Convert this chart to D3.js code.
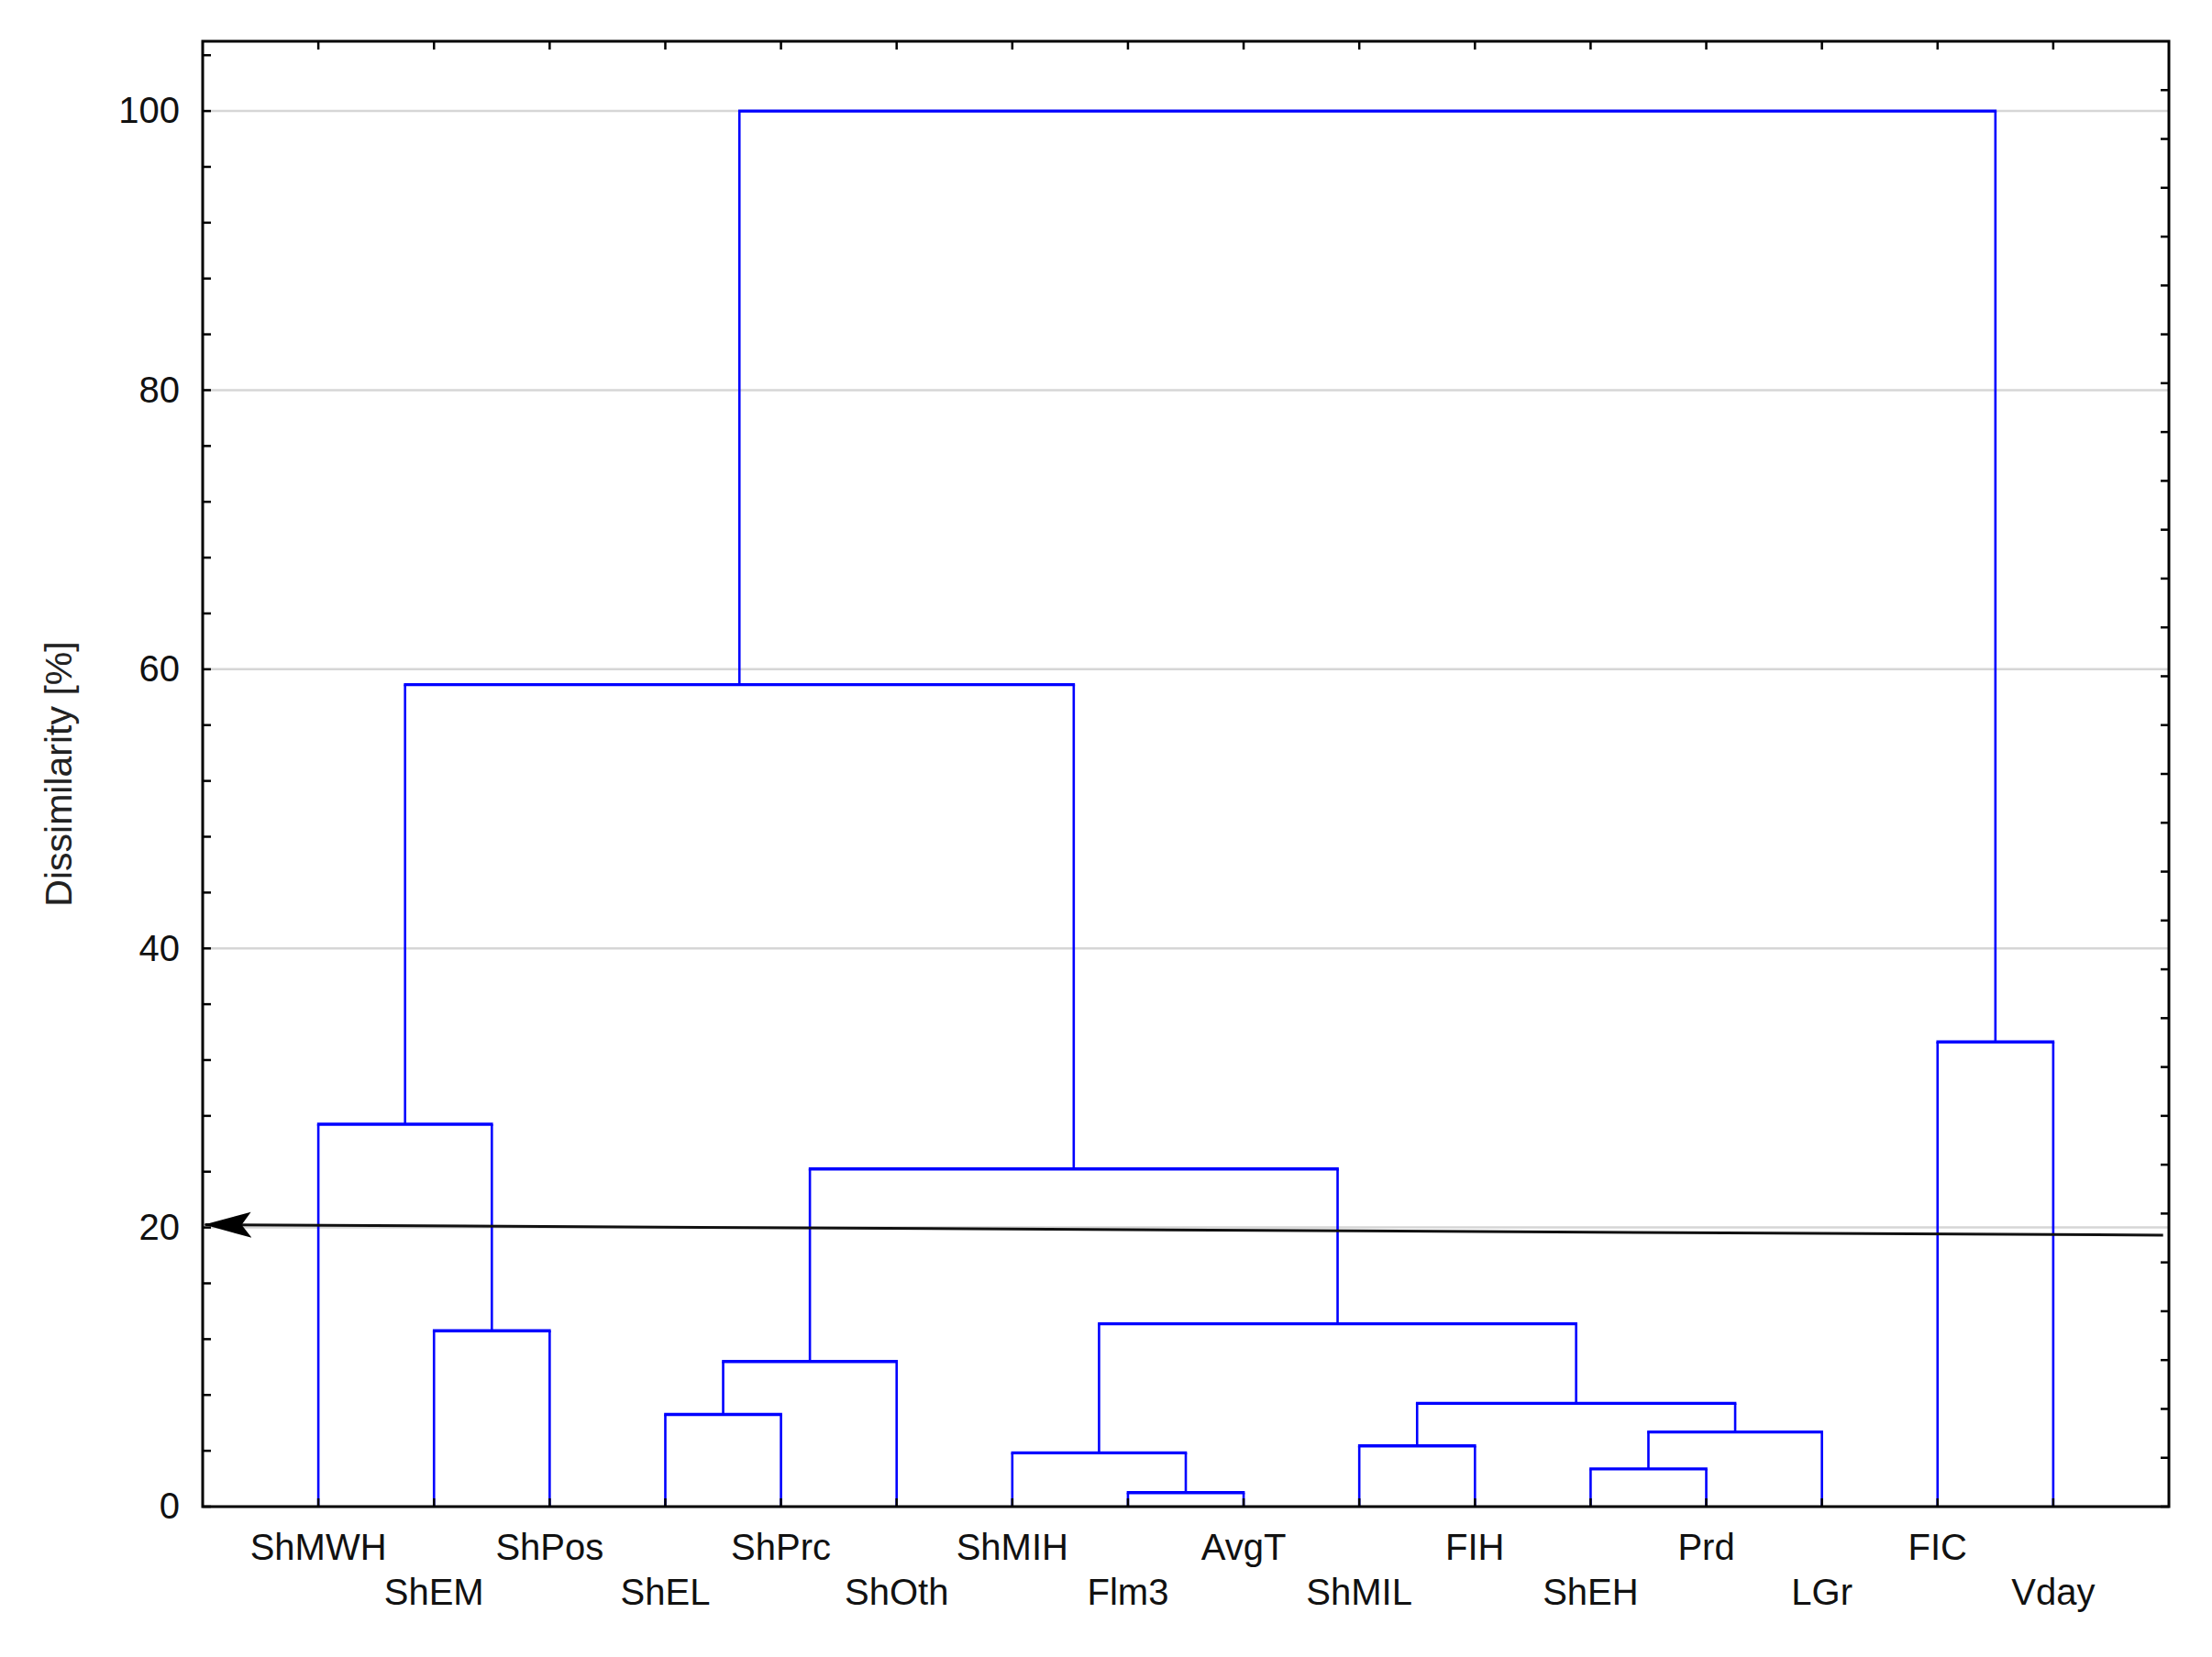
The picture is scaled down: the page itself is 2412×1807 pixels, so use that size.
<!DOCTYPE html>
<html>
<head>
<meta charset="utf-8">
<script src="https://cdn.jsdelivr.net/npm/d3@7"></script>
<style>
  body { margin: 0; background: #fff; }
  text { font-family: "Liberation Sans", Arial, sans-serif; }
</style>
</head>
<body>
<div id="chart"></div>
<script>
// leaf order along the x axis
var leaves = ["ShMWH", "ShEM", "ShPos", "ShEL", "ShPrc", "ShOth", "ShMIH", "Flm3",
              "AvgT", "ShMIL", "FIH", "ShEH", "Prd", "LGr", "FIC", "Vday"];

// merges: ids < 16 are leaves, id 16+ are the merges in this order
var mergeLeft   = [7, 11, 6, 9, 17, 3, 19, 21, 1, 18, 23, 0, 14, 27, 29];
var mergeRight  = [8, 12, 16, 10, 13, 4, 20, 5, 2, 22, 25, 24, 15, 26, 28];
var mergeHeight = [1.0, 2.7, 3.85, 4.35, 5.35, 6.6, 7.4, 10.4, 12.6, 13.1, 24.2, 27.4, 33.3, 58.9, 100];

var yTicks = [0, 20, 40, 60, 80, 100];
var yMinorTicks = d3.range(0, 105, 4);      // left side
var yRightTicks = d3.range(0, 105, 3.5);    // right side

// cut-off arrow (x in leaf units, y in %)
var arrowX = [16.95, 0.02];
var arrowY = [19.45, 20.2];

var W = 2412, H = 1807;
var margin = {top: 45, right: 47, bottom: 164, left: 221};
var width = W - margin.left - margin.right,
    height = H - margin.top - margin.bottom;

var svg = d3.select("#chart").append("svg")
    .attr("width", W)
    .attr("height", H);

var g = svg.append("g")
    .attr("transform", "translate(" + margin.left + "," + margin.top + ")");

var x = d3.scaleLinear().domain([0, leaves.length + 1]).range([0, width]);
var y = d3.scaleLinear().domain([0, 105]).range([height, 0]);

// grid lines
g.selectAll(".grid")
    .data(yTicks.filter(function (d) { return d > 0; }))
    .enter().append("line")
    .attr("x1", 0).attr("x2", width)
    .attr("y1", function (d) { return y(d); })
    .attr("y2", function (d) { return y(d); })
    .attr("stroke", "#d6d6d6")
    .attr("stroke-width", 2.5);

// node positions (leaf x, height)
var posX = leaves.map(function (d, i) { return i + 1; });
var posY = leaves.map(function () { return 0; });
mergeLeft.forEach(function (l, i) {
    posX.push((posX[l] + posX[mergeRight[i]]) / 2);
    posY.push(mergeHeight[i]);
});

var links = mergeLeft.map(function (l, i) {
    return {l: l, r: mergeRight[i], h: mergeHeight[i]};
});

// vertical legs
var legs = [];
links.forEach(function (d) {
    legs.push({x: posX[d.l], y0: posY[d.l], y1: d.h});
    legs.push({x: posX[d.r], y0: posY[d.r], y1: d.h});
});
g.selectAll(".leg")
    .data(legs)
    .enter().append("line")
    .attr("x1", function (d) { return x(d.x); })
    .attr("x2", function (d) { return x(d.x); })
    .attr("y1", function (d) { return y(d.y0); })
    .attr("y2", function (d) { return y(d.y1); })
    .attr("stroke", "#0000ff")
    .attr("stroke-width", 2.6);

// horizontal bars
g.selectAll(".bar")
    .data(links)
    .enter().append("line")
    .attr("x1", function (d) { return x(posX[d.l]) - 1.3; })
    .attr("x2", function (d) { return x(posX[d.r]) + 1.3; })
    .attr("y1", function (d) { return y(d.h); })
    .attr("y2", function (d) { return y(d.h); })
    .attr("stroke", "#0000ff")
    .attr("stroke-width", 3.4);

// frame
g.append("rect")
    .attr("x", 0).attr("y", 0)
    .attr("width", width).attr("height", height)
    .attr("fill", "none")
    .attr("stroke", "#000")
    .attr("stroke-width", 3);

// left axis labels
var yAxis = d3.axisLeft(y).tickValues(yTicks).tickSize(0).tickPadding(25)
    .tickFormat(d3.format("d"));
var ya = g.append("g").call(yAxis);
ya.select(".domain").remove();
ya.selectAll("text")
    .style("font-size", "40px")
    .attr("fill", "#111");

// inward ticks on all four sides
var tickLen = 9;
g.selectAll(".ltick")
    .data(yMinorTicks)
    .enter().append("line")
    .attr("x1", 0).attr("x2", tickLen)
    .attr("y1", function (d) { return y(d); })
    .attr("y2", function (d) { return y(d); })
    .attr("stroke", "#000").attr("stroke-width", 2.5);
g.selectAll(".rtick")
    .data(yRightTicks)
    .enter().append("line")
    .attr("x1", width).attr("x2", width - tickLen)
    .attr("y1", function (d) { return y(d); })
    .attr("y2", function (d) { return y(d); })
    .attr("stroke", "#000").attr("stroke-width", 2.5);
g.selectAll(".ttick")
    .data(posX.slice(0, leaves.length))
    .enter().append("line")
    .attr("x1", function (d) { return x(d); })
    .attr("x2", function (d) { return x(d); })
    .attr("y1", 0).attr("y2", tickLen)
    .attr("stroke", "#000").attr("stroke-width", 2.5);
g.selectAll(".btick")
    .data(posX.slice(0, leaves.length))
    .enter().append("line")
    .attr("x1", function (d) { return x(d); })
    .attr("x2", function (d) { return x(d); })
    .attr("y1", height).attr("y2", height - tickLen)
    .attr("stroke", "#000").attr("stroke-width", 2.5);

// leaf labels, two staggered rows
g.selectAll(".leaf")
    .data(leaves)
    .enter().append("text")
    .attr("x", function (d, i) { return x(i + 1); })
    .attr("y", function (d, i) { return height + (i % 2 === 0 ? 58 : 107); })
    .attr("text-anchor", "middle")
    .style("font-size", "40px")
    .attr("fill", "#111")
    .text(function (d) { return d; });

// y title
svg.append("text")
    .attr("transform", "translate(78," + (margin.top + height / 2) + ") rotate(-90)")
    .attr("text-anchor", "middle")
    .style("font-size", "41px")
    .attr("fill", "#222")
    .text("Dissimilarity [%]");

// arrow marker, tip pointing along the line direction (to the left)
svg.append("defs").append("marker")
    .attr("id", "head")
    .attr("viewBox", "0 -16 54 32")
    .attr("refX", 51).attr("refY", 0)
    .attr("markerUnits", "userSpaceOnUse")
    .attr("markerWidth", 54).attr("markerHeight", 32)
    .attr("orient", "auto")
    .append("path")
    .attr("d", "M52,0 L0,-14 L11,0 L1,14 Z")
    .attr("fill", "#000");

g.append("line")
    .attr("x1", x(arrowX[0])).attr("y1", y(arrowY[0]))
    .attr("x2", x(arrowX[1])).attr("y2", y(arrowY[1]))
    .attr("stroke", "#111")
    .attr("stroke-width", 3)
    .attr("marker-end", "url(#head)");
</script>
</body>
</html>
